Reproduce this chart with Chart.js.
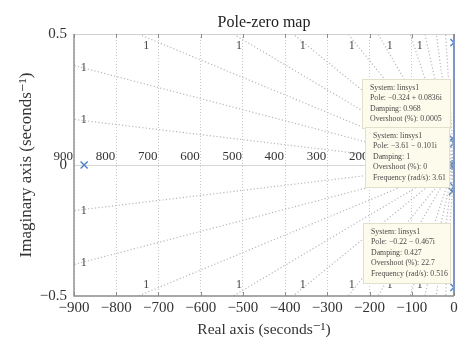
<!DOCTYPE html>
<html>
<head>
<meta charset="utf-8">
<script src="https://cdn.jsdelivr.net/npm/chart.js@4.4.0/dist/chart.umd.min.js"></script>
<style>
  html, body { margin: 0; padding: 0; background: #fff; }
  #wrap { width: 474px; height: 354px; }
</style>
</head>
<body>
<div id="wrap"><canvas id="pzChart"></canvas></div>
<script>
// axis ticks
const xTicks = [-900, -800, -700, -600, -500, -400, -300, -200, -100, 0];
const yTicks = [-0.5, 0, 0.5];

// poles (x) and the highlighted zero (o)
const poles = [
    { x: -876, y: 0 },
    { x: -0.324, y: 0.0836 }, { x: -0.324, y: -0.0836 },
    { x: -3.61, y: 0.101 }, { x: -3.61, y: -0.101 },
    { x: -0.22, y: 0.467 }, { x: -0.22, y: -0.467 }
];
const zeros = [{ x: -1, y: 0 }];

// damping grid lines: where they leave the plot (top edge x / left edge y)
const dampTopX = [-748, -523, -381, -251, -180, -104, -69, -42, -20];
const dampLeftY = [0.38, 0.174];

// "1" damping labels
const dampLabelTopX = [-729, -509, -358, -242, -152, -81];
const dampLabelTopY = 0.456;
const dampLabelLeftX = -877;
const dampLabelLeftY = [0.372, 0.174];

// natural frequency labels on the real axis
const freqLabels = [900, 800, 700, 600, 500, 400, 300, 200];

// data tips
const tip1 = ['System: linsys1', 'Pole: \u22120.324 + 0.0836i', 'Damping: 0.968', 'Overshoot (%): 0.0005'];
const tip2 = ['System: linsys1', 'Pole: \u22123.61 \u2212 0.101i', 'Damping: 1', 'Overshoot (%): 0', 'Frequency (rad/s): 3.61'];
const tip3 = ['System: linsys1', 'Pole: \u22120.22 \u2212 0.467i', 'Damping: 0.427', 'Overshoot (%): 22.7', 'Frequency (rad/s): 0.516'];

const serif = "'Liberation Serif', 'DejaVu Serif', serif";
const fmt = v => (v < 0 ? '\u2212' + Math.abs(v) : String(v));

// build damping line datasets
const dampSets = [];
dampTopX.forEach(x => {
    dampSets.push([{ x: 0, y: 0 }, { x: x, y: 0.5 }]);
    dampSets.push([{ x: 0, y: 0 }, { x: x, y: -0.5 }]);
});
dampLeftY.forEach(y => {
    dampSets.push([{ x: 0, y: 0 }, { x: -900, y: y }]);
    dampSets.push([{ x: 0, y: 0 }, { x: -900, y: -y }]);
});

const datasets = dampSets.map(d => ({
    data: d,
    showLine: true,
    borderColor: '#b8b8b8',
    borderWidth: 1.2,
    borderDash: [1.2, 2.2],
    pointRadius: 0
}));
datasets.push({
    data: zeros,
    pointStyle: 'circle',
    pointRadius: 4.5,
    backgroundColor: '#5a8fd6',
    borderColor: '#2b5c9e',
    borderWidth: 1
});
datasets.push({
    data: poles,
    pointStyle: 'crossRot',
    pointRadius: 5,
    borderColor: '#4f82c8',
    borderWidth: 1.4
});

function drawTip(ctx, left, top, w, h, lines) {
    ctx.save();
    ctx.fillStyle = '#fdfbec';
    ctx.strokeStyle = '#e2dfcc';
    ctx.lineWidth = 1;
    ctx.fillRect(left, top, w, h);
    ctx.strokeRect(left + 0.5, top + 0.5, w, h);
    ctx.fillStyle = '#4a4a4a';
    ctx.font = '7.8px ' + serif;
    ctx.textAlign = 'left';
    ctx.textBaseline = 'middle';
    lines.forEach((t, i) => ctx.fillText(t, left + 8, top + 9 + i * 10.4));
    ctx.restore();
}

const pzPlugin = {
    id: 'pzExtras',
    afterDatasetsDraw(chart) {
        const { ctx, chartArea: a, scales: { x, y } } = chart;
        ctx.save();

        // "1" damping labels
        ctx.fillStyle = '#444';
        ctx.font = '12px ' + serif;
        ctx.textAlign = 'center';
        ctx.textBaseline = 'middle';
        dampLabelTopX.forEach(v => {
            ctx.fillText('1', x.getPixelForValue(v), y.getPixelForValue(dampLabelTopY));
            ctx.fillText('1', x.getPixelForValue(v), y.getPixelForValue(-dampLabelTopY));
        });
        dampLabelLeftY.forEach(v => {
            ctx.fillText('1', x.getPixelForValue(dampLabelLeftX), y.getPixelForValue(v));
            ctx.fillText('1', x.getPixelForValue(dampLabelLeftX), y.getPixelForValue(-v));
        });

        // frequency labels
        ctx.fillStyle = '#333';
        ctx.font = '13px ' + serif;
        ctx.textAlign = 'right';
        freqLabels.forEach(v => {
            ctx.fillText(String(v), x.getPixelForValue(-v) - 1, y.getPixelForValue(0) - 8);
        });

        // frame
        ctx.lineWidth = 1;
        ctx.strokeStyle = '#d0d0d0';
        ctx.beginPath();
        ctx.moveTo(a.left, a.top + 0.5);
        ctx.lineTo(a.right, a.top + 0.5);
        ctx.stroke();
        ctx.strokeStyle = '#8c8c8c';
        ctx.lineWidth = 1.4;
        ctx.beginPath();
        ctx.moveTo(a.left, a.top);
        ctx.lineTo(a.left, a.bottom);
        ctx.lineTo(a.right, a.bottom);
        ctx.stroke();
        ctx.strokeStyle = '#7f96c6';
        ctx.lineWidth = 2;
        ctx.beginPath();
        ctx.moveTo(a.right, a.top);
        ctx.lineTo(a.right, a.bottom);
        ctx.stroke();

        // inward tick marks
        ctx.strokeStyle = '#8c8c8c';
        ctx.lineWidth = 1;
        xTicks.forEach(v => {
            const px = Math.round(x.getPixelForValue(v)) + 0.5;
            ctx.beginPath();
            ctx.moveTo(px, a.bottom); ctx.lineTo(px, a.bottom - 4);
            ctx.moveTo(px, a.top); ctx.lineTo(px, a.top + 4);
            ctx.stroke();
        });

        // title
        ctx.fillStyle = '#222';
        ctx.font = '16px ' + serif;
        ctx.textAlign = 'center';
        ctx.textBaseline = 'middle';
        ctx.fillText('Pole-zero map', (a.left + a.right) / 2, 23);
        ctx.restore();

        // data tips
        drawTip(ctx, a.right - 92, a.top + 45, 88, 49, tip1);
        drawTip(ctx, a.right - 89, a.top + 93, 84, 60, tip2);
        drawTip(ctx, a.right - 91, a.top + 189, 87, 60, tip3);
    }
};

const pzChart = new Chart(document.getElementById('pzChart'), {
    type: 'scatter',
    data: { datasets: datasets },
    options: {
        responsive: true,
        maintainAspectRatio: false,
        animation: false,
        layout: { padding: { left: 0, right: 20, top: 34, bottom: 0 } },
        plugins: {
            legend: { display: false },
            tooltip: { enabled: false },
            title: { display: false }
        },
        scales: {
            x: {
                type: 'linear',
                min: -900,
                max: 0,
                afterBuildTicks: s => { s.ticks = xTicks.map(v => ({ value: v })); },
                afterFit: s => { s.height = 58; },
                ticks: {
                    callback: fmt,
                    color: '#333',
                    padding: 3,
                    maxRotation: 0,
                    font: { family: serif, size: 15 }
                },
                grid: { color: '#c8c8c8', lineWidth: 1, drawTicks: false },
                border: { display: false, dash: [1, 2] },
                title: {
                    display: true,
                    text: 'Real axis (seconds\u207B\u00B9)',
                    color: '#333',
                    font: { family: serif, size: 15.5 },
                    padding: { top: 0, bottom: 15 }
                }
            },
            y: {
                type: 'linear',
                min: -0.5,
                max: 0.5,
                afterBuildTicks: s => { s.ticks = yTicks.map(v => ({ value: v })); },
                afterFit: s => { s.width = 74; },
                ticks: {
                    callback: fmt,
                    color: '#333',
                    padding: 7,
                    font: { family: serif, size: 15 }
                },
                grid: {
                    color: c => (c.tick && c.tick.value === 0 ? '#d6d6d6' : 'rgba(0,0,0,0)'),
                    lineWidth: 1,
                    drawTicks: false
                },
                border: { display: false },
                title: {
                    display: true,
                    text: 'Imaginary axis (seconds\u207B\u00B9)',
                    color: '#333',
                    font: { family: serif, size: 17 },
                    padding: { top: 16, bottom: 0 }
                }
            }
        }
    },
    plugins: [pzPlugin]
});
</script>
</body>
</html>
